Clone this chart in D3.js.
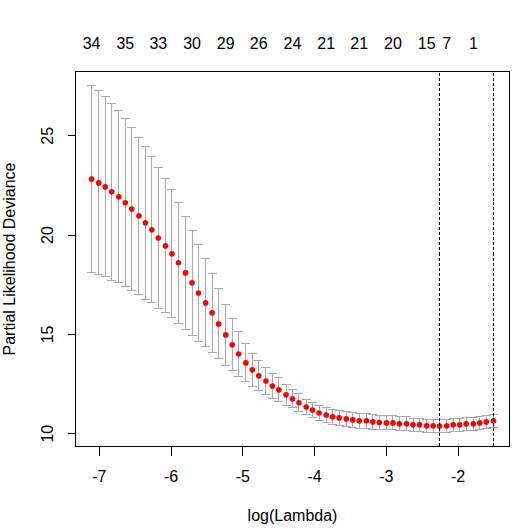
<!DOCTYPE html>
<html>
<head>
<meta charset="utf-8">
<script src="https://cdn.jsdelivr.net/npm/d3@7"></script>
<style>
  body { margin: 0; background: #fff; }
  text { font-family: "Liberation Sans", Arial, sans-serif; font-size: 16px; fill: #000; }
</style>
</head>
<body>
<svg id="cv-plot" width="528" height="529"></svg>
<script>
// log(lambda) path, one entry per fitted lambda
const logLambda = [
    -7.10, -7.00, -6.91, -6.82, -6.72, -6.63, -6.54, -6.44, -6.35, -6.26,
    -6.17, -6.07, -5.98, -5.89, -5.79, -5.70, -5.61, -5.51, -5.42, -5.33,
    -5.23, -5.14, -5.05, -4.95, -4.86, -4.77, -4.67, -4.58, -4.49, -4.39,
    -4.30, -4.21, -4.11, -4.02, -3.93, -3.83, -3.74, -3.65, -3.55, -3.46,
    -3.37, -3.27, -3.18, -3.09, -2.99, -2.90, -2.81, -2.71, -2.62, -2.53,
    -2.43, -2.34, -2.25, -2.15, -2.06, -1.97, -1.88, -1.78, -1.69, -1.60,
    -1.50
];

// mean cross-validated partial likelihood deviance
const cvm = [
    22.80, 22.60, 22.40, 22.15, 21.90, 21.60, 21.29, 20.94, 20.59, 20.24,
    19.83, 19.43, 19.03, 18.58, 18.07, 17.57, 17.06, 16.56, 16.06, 15.50,
    14.95, 14.45, 13.99, 13.54, 13.19, 12.89, 12.63, 12.38, 12.18, 11.93,
    11.73, 11.53, 11.32, 11.17, 11.02, 10.92, 10.82, 10.77, 10.72, 10.67,
    10.62, 10.62, 10.57, 10.54, 10.52, 10.52, 10.47, 10.47, 10.42, 10.42,
    10.37, 10.37, 10.36, 10.37, 10.42, 10.42, 10.47, 10.47, 10.52, 10.57,
    10.62
];

// standard error of the cv estimate
const cvsd = [
    4.71, 4.63, 4.53, 4.44, 4.33, 4.23, 4.10, 3.95, 3.85, 3.68,
    3.55, 3.37, 3.22, 3.05, 2.84, 2.64, 2.42, 2.22, 1.99, 1.76,
    1.54, 1.31, 1.13, 0.96, 0.83, 0.76, 0.70, 0.65, 0.60, 0.53,
    0.45, 0.45, 0.40, 0.38, 0.36, 0.36, 0.37, 0.37, 0.37, 0.37,
    0.37, 0.37, 0.37, 0.36, 0.35, 0.35, 0.35, 0.35, 0.34, 0.34,
    0.33, 0.33, 0.33, 0.33, 0.34, 0.34, 0.33, 0.33, 0.33, 0.33,
    0.33
];

// number of non-zero coefficients shown on the top axis
const nzeroIdx = [0, 5, 10, 15, 20, 25, 30, 35, 40, 45, 50, 53, 57];
const nzeroLab = ["34", "35", "33", "30", "29", "26", "24", "21", "21", "20", "15", "7", "1"];

const xTicks = [-7, -6, -5, -4, -3, -2];
const yTicks = [10, 15, 20, 25];

const lambdaMinLog = -2.25;
const lambda1seLog = -1.50;

let data = logLambda.map(function (l, i) {
    return {l: l, m: cvm[i], lo: cvm[i] - cvsd[i], hi: cvm[i] + cvsd[i]};
});

let svg = d3.select("#cv-plot"),
    margin = {top: 71.5, right: 18.5, bottom: 82.5, left: 75.5},
    width = +svg.attr("width") - margin.left - margin.right,
    height = +svg.attr("height") - margin.top - margin.bottom,
    g = svg.append("g").attr("transform", "translate(" + margin.left + "," + margin.top + ")");

// R-style 4% padding on both axes
function padded(lo, hi) {
    let d = (hi - lo) * 0.04;
    return [lo - d, hi + d];
}

let x = d3.scaleLinear()
    .domain(padded(d3.min(logLambda), d3.max(logLambda)))
    .range([0, width]);

let y = d3.scaleLinear()
    .domain(padded(d3.min(data, d => d.lo), d3.max(data, d => d.hi)))
    .range([height, 0]);

// snap a pixel position so 1px strokes stay sharp
function px(v) {
    return Math.round(v);
}

// error bars
let bars = g.append("g")
    .attr("stroke", "#a9a9a9")
    .attr("stroke-width", 1)
    .attr("shape-rendering", "crispEdges")
    .selectAll(".ebar")
    .data(data)
    .enter().append("g")
    .attr("class", "ebar");

bars.append("line")
    .attr("x1", d => px(x(d.l))).attr("x2", d => px(x(d.l)))
    .attr("y1", d => px(y(d.lo))).attr("y2", d => px(y(d.hi)));

bars.append("line")
    .attr("x1", d => px(x(d.l)) - 4.5).attr("x2", d => px(x(d.l)) + 4.5)
    .attr("y1", d => px(y(d.hi))).attr("y2", d => px(y(d.hi)));

bars.append("line")
    .attr("x1", d => px(x(d.l)) - 4.5).attr("x2", d => px(x(d.l)) + 4.5)
    .attr("y1", d => px(y(d.lo))).attr("y2", d => px(y(d.lo)));

// mean points
g.append("g")
    .selectAll("circle")
    .data(data)
    .enter().append("circle")
    .attr("cx", d => x(d.l))
    .attr("cy", d => y(d.m))
    .attr("r", 2.8)
    .attr("fill", "#ff0000");

// lambda.min and lambda.1se
g.selectAll(".vline")
    .data([lambdaMinLog, lambda1seLog])
    .enter().append("line")
    .attr("class", "vline")
    .attr("x1", d => px(x(d))).attr("x2", d => px(x(d)))
    .attr("y1", 1).attr("y2", height)
    .attr("stroke", "#000")
    .attr("shape-rendering", "crispEdges")
    .attr("stroke-dasharray", "3,2");

// axes
let xAxis = g.append("g")
    .attr("class", "axis axis--x")
    .attr("transform", "translate(0," + height + ")")
    .call(d3.axisBottom(x).tickValues(xTicks).tickSize(9).tickSizeOuter(0).tickFormat(d => String(d)));
xAxis.select(".domain").remove();
xAxis.selectAll("line").attr("shape-rendering", "crispEdges");
xAxis.selectAll("text")
    .attr("y", 35.5)
    .attr("dy", 0)
    .style("font-size", "16px")
    .style("font-family", "'Liberation Sans', Arial, sans-serif");

let yAxis = g.append("g")
    .attr("class", "axis axis--y")
    .call(d3.axisLeft(y).tickValues(yTicks).tickSize(8).tickSizeOuter(0).tickFormat(d => String(d)));
yAxis.select(".domain").remove();
yAxis.selectAll("line").attr("shape-rendering", "crispEdges");
yAxis.selectAll("text")
    .attr("x", 0).attr("y", 0).attr("dy", 0)
    .attr("text-anchor", "middle")
    .attr("transform", "translate(-23,0) rotate(-90)")
    .style("font-size", "16px")
    .style("font-family", "'Liberation Sans', Arial, sans-serif");

// frame
g.append("rect")
    .attr("width", width).attr("height", height)
    .attr("fill", "none").attr("stroke", "#000")
    .attr("shape-rendering", "crispEdges");

// top axis: nonzero counts
g.append("g")
    .selectAll("text")
    .data(nzeroIdx)
    .enter().append("text")
    .attr("x", d => x(logLambda[d]))
    .attr("y", -22.5)
    .attr("text-anchor", "middle")
    .text((d, i) => nzeroLab[i]);

// axis titles
svg.append("text")
    .attr("x", margin.left + width / 2)
    .attr("y", 520.5)
    .attr("text-anchor", "middle")
    .text("log(Lambda)");

svg.append("text")
    .attr("transform", "translate(15," + (margin.top + height / 2) + ") rotate(-90)")
    .attr("text-anchor", "middle")
    .text("Partial Likelihood Deviance");
</script>
</body>
</html>
